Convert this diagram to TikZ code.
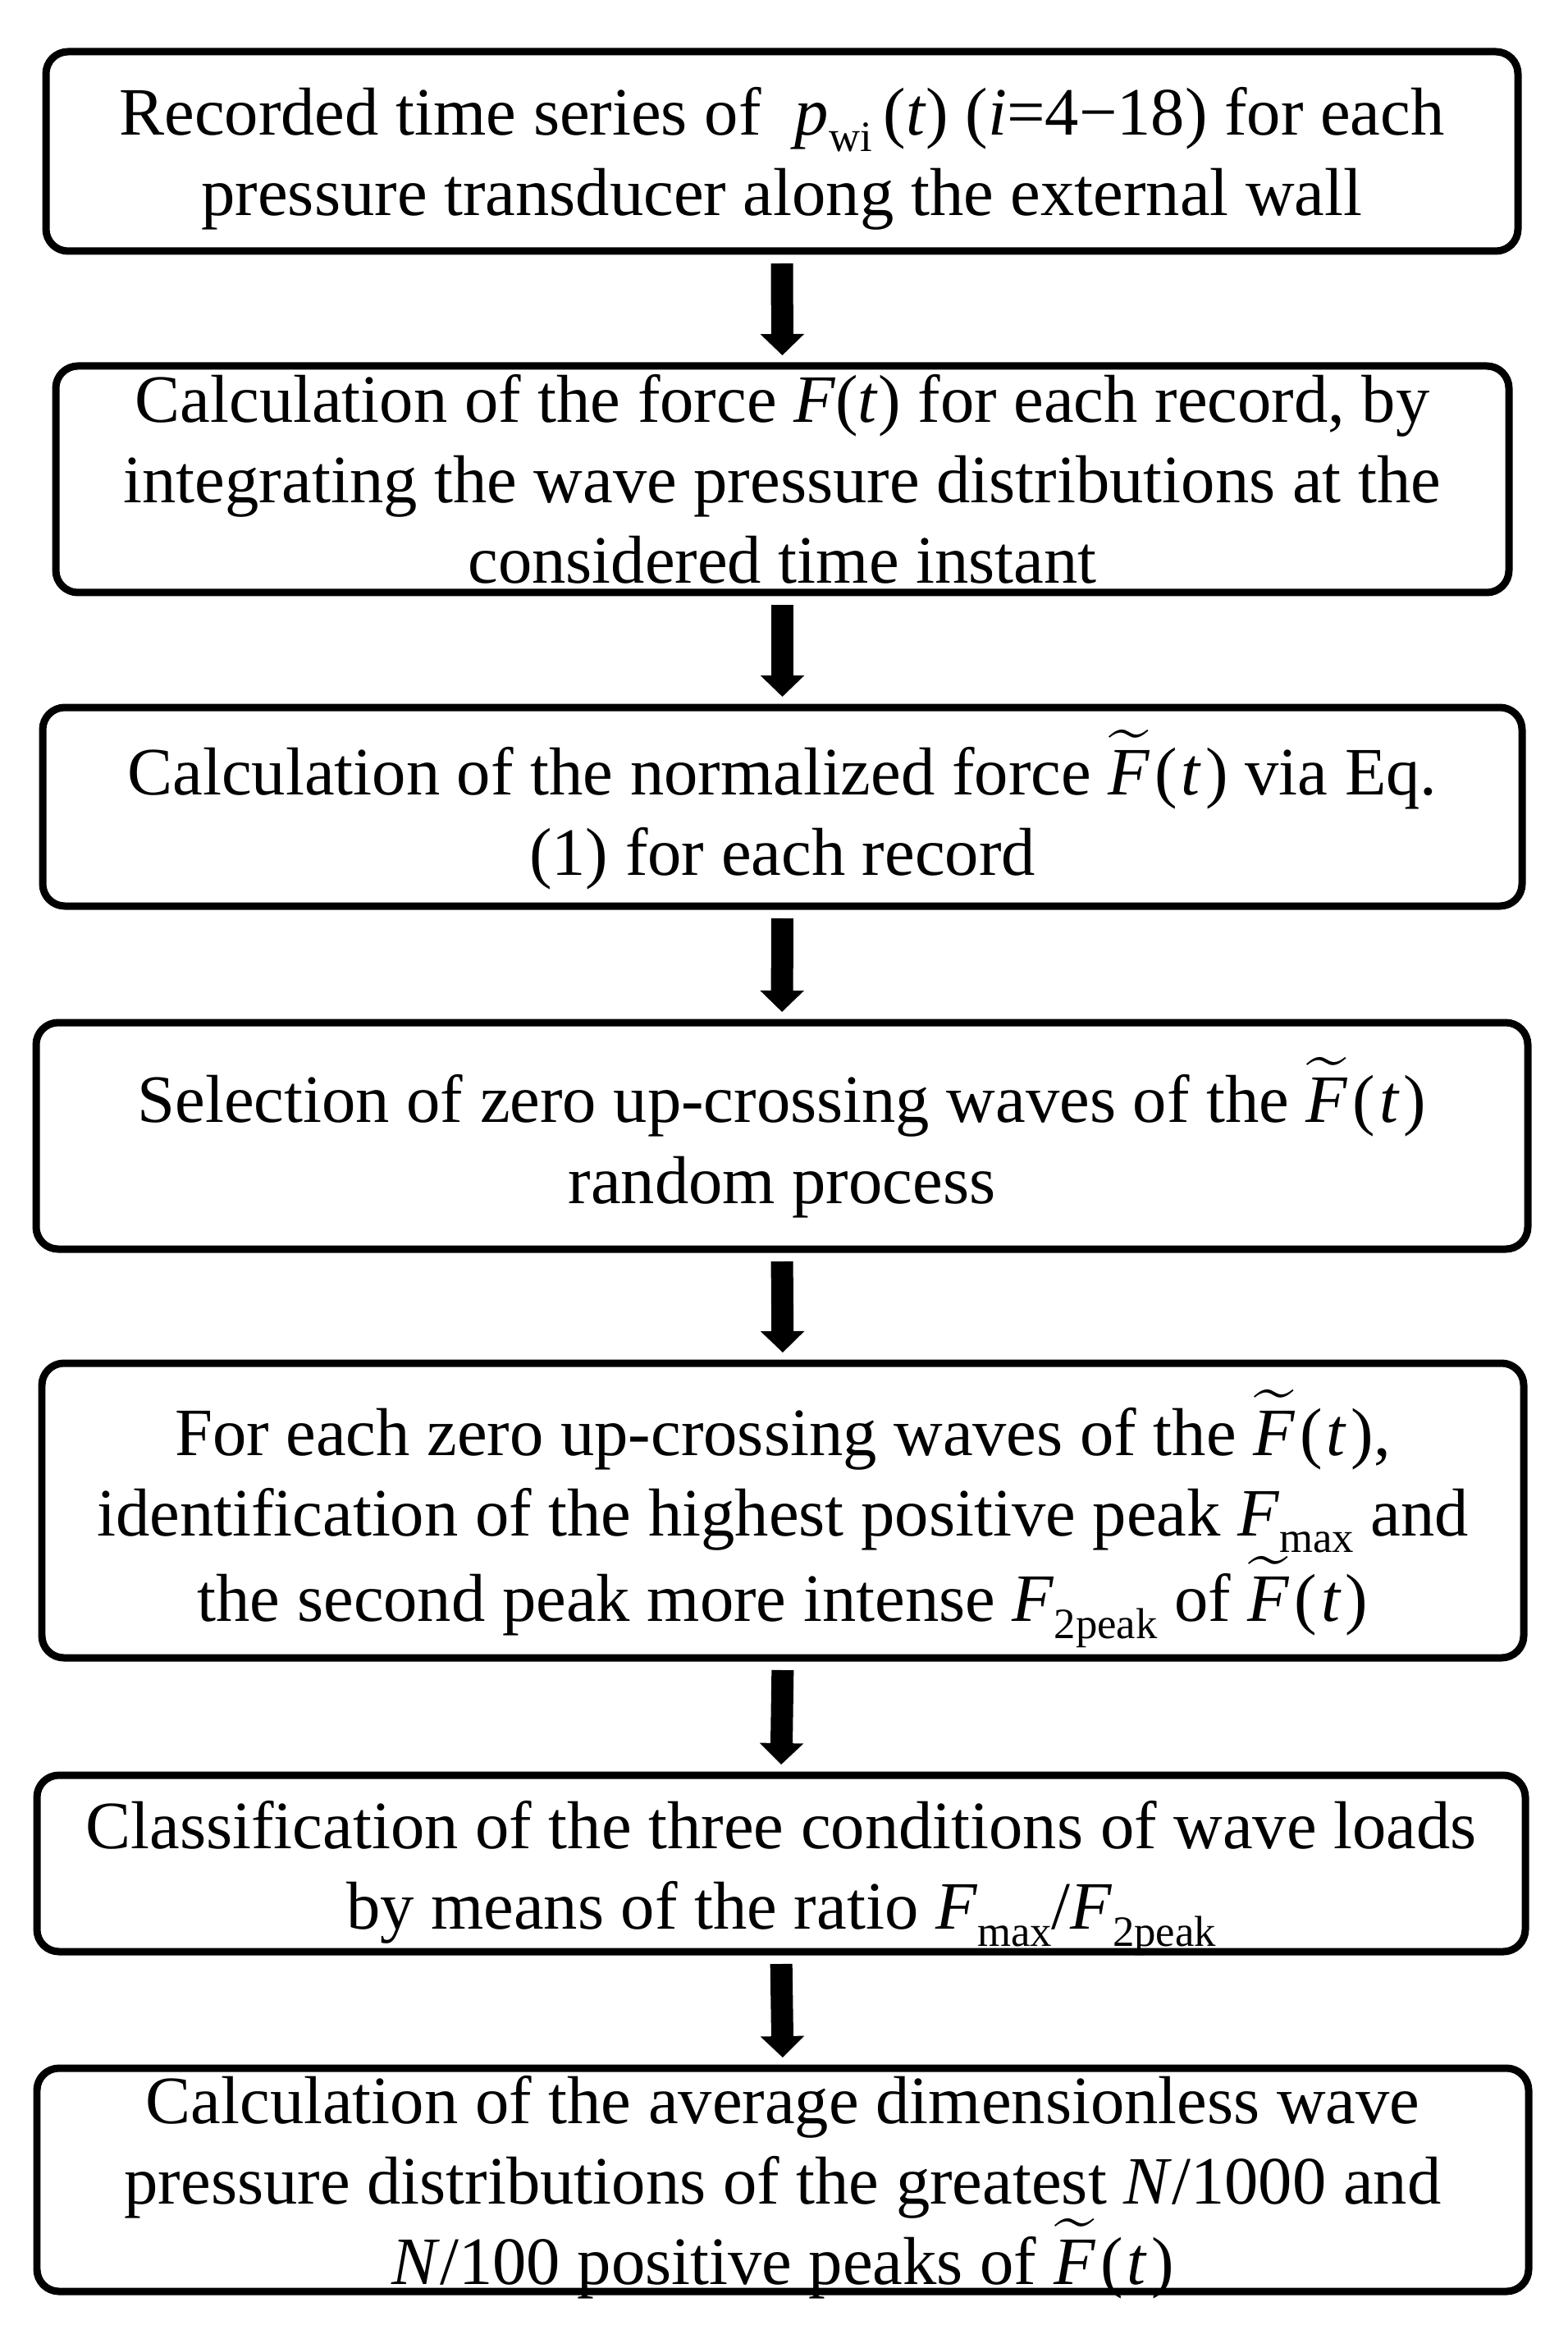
\documentclass[tikz,border=0pt]{standalone}
\usepackage{amsmath}
\usepackage{fontspec}
\setmainfont{Liberation Serif}
\usetikzlibrary{arrows.meta}

\newcommand{\lowsub}[1]{\raisebox{-0.25em}{\fontsize{15pt}{15pt}\selectfont #1}}
\newcommand{\Ftil}{$\widetilde{\textit{F}}$\kern0.08em(\kern0.06em\textit{t}\kern0.06em)}

\begin{document}
\begin{tikzpicture}[
    stepbox/.style={draw, line width=0.09cm, rounded corners=0.27cm},
    steptext/.style={align=center, inner sep=0pt, font=\fontsize{23.5pt}{27.9pt}\selectfont},
    flowarrow/.style={line width=0.27cm, -{Triangle[width=0.52cm,length=0.26cm]},
      shorten <=0.105cm, shorten >=0.085cm}]
    \useasboundingbox (0,0) rectangle (19.1,-28.5);

    % Boxes of the procedure
    \node[stepbox, minimum width=17.94cm, minimum height=2.43cm] (record) at (9.53,-1.845) {};
    \node[stepbox, minimum width=17.71cm, minimum height=2.76cm] (force) at (9.535,-5.84) {};
    \node[stepbox, minimum width=18.03cm, minimum height=2.42cm] (normal) at (9.535,-9.83) {};
    \node[stepbox, minimum width=18.18cm, minimum height=2.76cm] (select) at (9.53,-13.84) {};
    \node[stepbox, minimum width=18.06cm, minimum height=3.59cm] (peaks) at (9.54,-18.405) {};
    \node[stepbox, minimum width=18.14cm, minimum height=2.15cm] (classify) at (9.52,-22.705) {};
    \node[stepbox, minimum width=18.18cm, minimum height=2.72cm] (average) at (9.54,-26.56) {};

    % Texts in the boxes
    \node[steptext] (recordtext) at ([yshift=-0.085cm]record.center)
      {Recorded time series of \ \textit{p}\lowsub{wi}\,(\textit{t}) (\textit{i}=4\textminus18) for each\\
       pressure transducer along the external wall};
    \node[steptext] (forcetext) at (force.center)
      {Calculation of the force \textit{F}(\textit{t}) for each record, by\\
       integrating the wave pressure distributions at the\\
       considered time instant};
    \node[steptext] (normaltext) at ([yshift=-0.035cm]normal.center)
      {Calculation of the normalized force \Ftil{} via Eq.\\
       (1) for each record};
    \node[steptext] (selecttext) at ([yshift=-0.02cm]select.center)
      {Selection of zero up-crossing waves of the \Ftil\\
       random process};
    \node[steptext] (peakstext) at ([yshift=-0.1cm]peaks.center)
      {For each zero up-crossing waves of the \Ftil,\\
       identification of the highest positive peak \textit{F}\lowsub{max} and\\
       the second peak more intense \textit{F}\lowsub{2peak} of \Ftil};
    \node[steptext] (classifytext) at ([yshift=-0.18cm]classify.center)
      {Classification of the three conditions of wave loads\\
       by means of the ratio \textit{F}\lowsub{max}/\textit{F}\lowsub{2peak}};
    \node[steptext] (averagetext) at ([yshift=-0.09cm]average.center)
      {Calculation of the average dimensionless wave\\
       pressure distributions of the greatest \textit{N}/1000 and\\
       \textit{N}/100 positive peaks of \Ftil};

    % Arrows between the steps
    \draw[flowarrow] (record.south) -- (force.north);
    \draw[flowarrow] (force.south) -- (normal.north);
    \draw[flowarrow] (normal.south) -- (select.north);
    \draw[flowarrow] (select.south) -- (peaks.north);
    \draw[flowarrow] (peaks.south) -- (classify.north);
    \draw[flowarrow] (classify.south) -- (average.north);
\end{tikzpicture}
\end{document}
